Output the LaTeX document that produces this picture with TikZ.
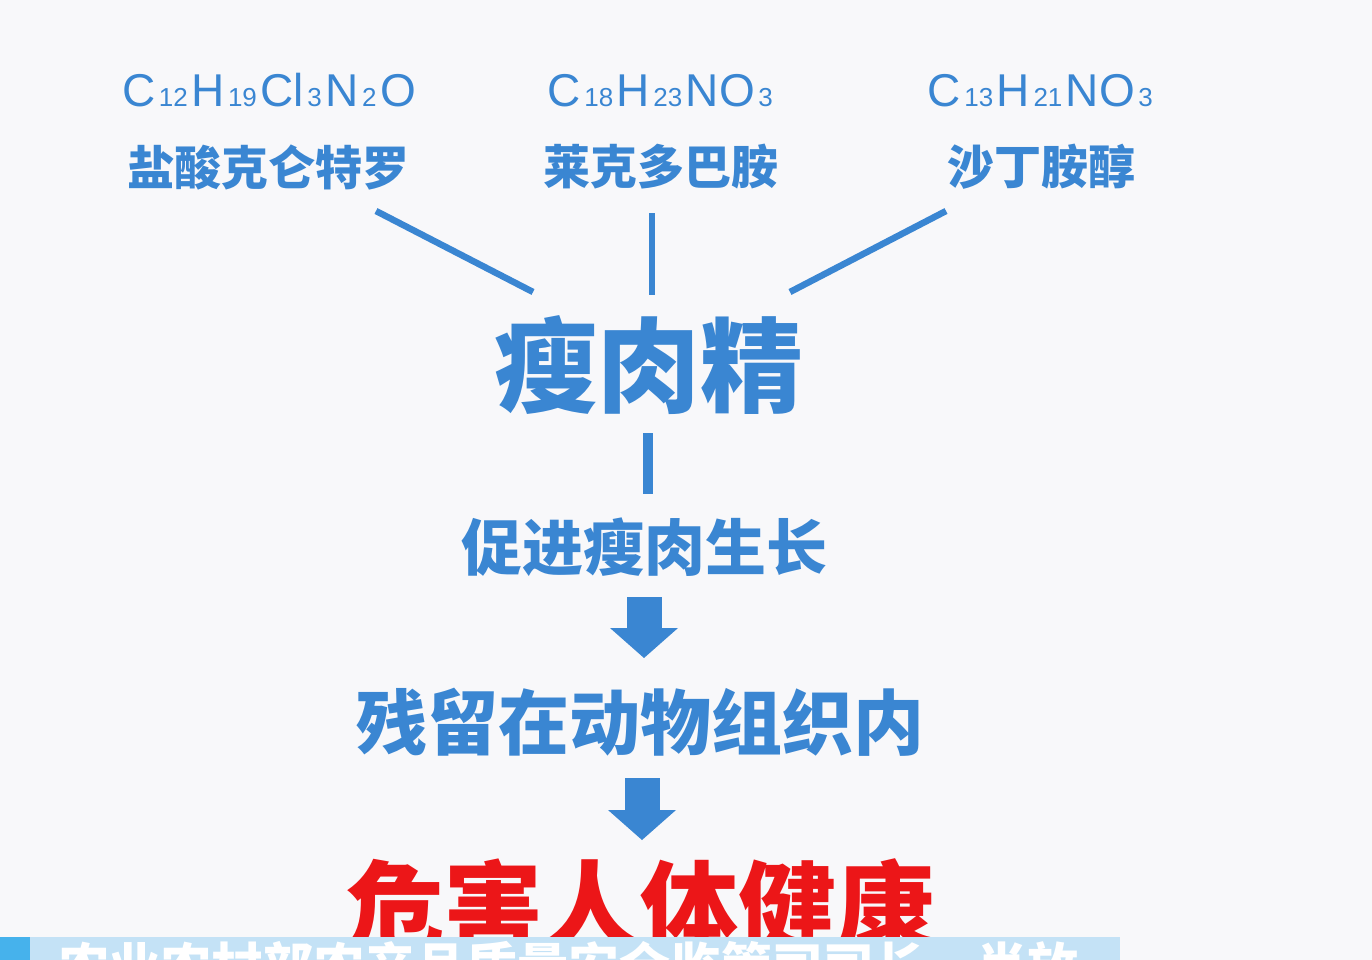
\documentclass[tikz,border=0pt]{standalone}
\usepackage{fontspec}
\setmainfont{Liberation Sans}
\newfontfamily\cjk{Noto Sans CJK SC}
\usepackage{tikz}
\usetikzlibrary{arrows.meta, positioning, calc}
\definecolor{myblue}{RGB}{58,134,210}
\definecolor{myred}{RGB}{236,22,24}
\definecolor{mybg}{RGB}{248,248,250}
\definecolor{bannerblue}{RGB}{196,226,246}
\definecolor{bannerleft}{RGB}{70,178,236}
\tikzset{
  formula/.style={font=\fontsize{46}{50}\selectfont, text=myblue,
    inner sep=0pt, anchor=base},
  drugname/.style={font=\cjk\bfseries\fontsize{47}{52}\selectfont,
    text=myblue, inner sep=0pt},
  stepbox/.style={font=\cjk\bfseries\fontsize{#1}{#1}\selectfont,
    text=myblue, inner sep=0pt},
  link/.style={line width=6.5pt, draw=myblue},
  bigarrow/.style={line width=35pt, draw=myblue,
    -{Triangle[length=30pt, width=68pt, line width=0pt]}},
  caption/.style={font=\cjk\bfseries\fontsize{51}{52}\selectfont,
    text=white, inner sep=0pt, anchor=north west}
}
\newcommand{\sub}[1]{\kern3.5pt{\fontsize{26}{26}\selectfont #1}\kern3.5pt}

\begin{document}
\begin{tikzpicture}[x=1pt, y=-1pt]
  \useasboundingbox[fill=mybg] (0,0) rectangle (1372,960);

  % Formulas
  \node[formula] (f1) at (269,107) {C\sub{12}H\sub{19}Cl\sub{3}N\sub{2}O};
  \node[formula] (f2) at (662,107) {C\sub{18}H\sub{23}NO\sub{3}};
  \node[formula] (f3) at (1042,107) {C\sub{13}H\sub{21}NO\sub{3}};

  % Drug names
  \node[drugname] (n1) at (268,167) {盐酸克仑特罗};
  \node[drugname] (n2) at (661,167) {莱克多巴胺};
  \node[drugname] (n3) at (1041,167) {沙丁胺醇};

  % Chain
  \node[stepbox=103] (lean) at (649,365) {瘦肉精};
  \node[stepbox=61] (grow) at (644,547) {促进瘦肉生长};
  \node[stepbox=71] (stay) at (640,722) {残留在动物组织内};
  \node[stepbox=98, text=myred] (harm) at (640,906) {危害人体健康};

  % Links to lean
  \draw[link] ([shift={(108,44)}]n1.center) -- ([shift={(-116,-73)}]lean.center);
  \draw[link] ([shift={(-9,46)}]n2.center) -- ([shift={(3,-70)}]lean.center);
  \draw[link] ([shift={(-95,44)}]n3.center) -- ([shift={(141,-73)}]lean.center);
  \draw[link, line width=9.5pt] ([shift={(-1,68)}]lean.center) -- ([shift={(4,-53)}]grow.center);

  % Arrows
  \draw[bigarrow] ([shift={(0,50)}]grow.center) -- ([shift={(4,-64)}]stay.center);
  \draw[bigarrow] ([shift={(2,56)}]stay.center) -- ([shift={(2,-66)}]harm.center);

  % Banner
  \fill[bannerblue] (30,937) rectangle (1120,960);
  \fill[bannerleft] (0,937) rectangle (30,960);
  \begin{scope}
    \clip (30,937) rectangle (1120,960);
    \node[caption] (credit) at (58,941) {农业农村部农产品质量安全监管司司长　肖放};
  \end{scope}
\end{tikzpicture}
\end{document}
